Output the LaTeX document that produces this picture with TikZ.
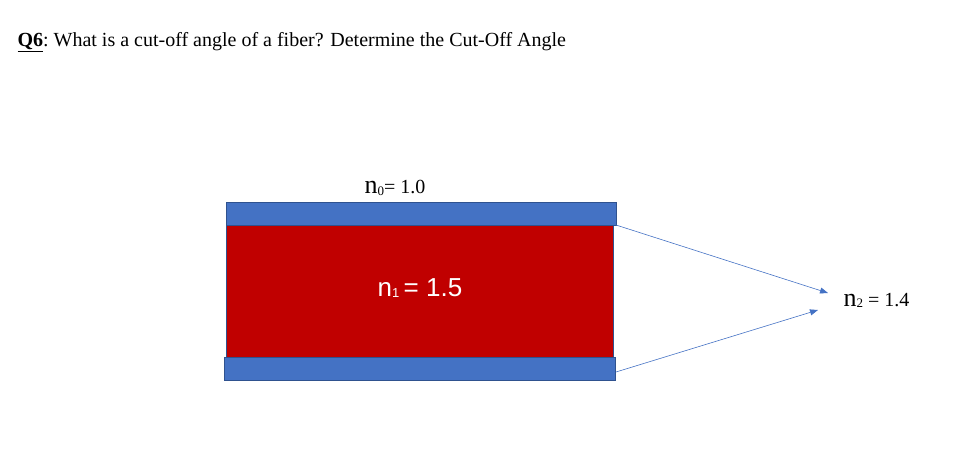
\documentclass[tikz,border=0pt]{standalone}
\usepackage{fontspec}
\setmainfont{Liberation Serif}
\newfontfamily\sansf{Liberation Sans}
\usetikzlibrary{arrows.meta}
\definecolor{barblue}{HTML}{4472C4}
\definecolor{barline}{HTML}{2F528F}
\definecolor{corered}{HTML}{C00000}
\begin{document}
\begin{tikzpicture}[x=1pt,y=-1pt,
  bar/.style={fill=barblue,draw=barline,line width=0.8pt},
  ray/.style={draw=barblue,line width=0.6pt,-{Triangle[length=8pt,width=6pt]}}]
\useasboundingbox (0,0) rectangle (954,455);
\node[anchor=west,font=\fontsize{20}{24}\selectfont] (title) at (14,42) {\textbf{\underline{Q6}}:\ What is a cut-off angle of a fiber? Determine the Cut-Off Angle};
\draw[bar] (226,202) rectangle (616,225);
\node[fill=corered,draw=barline,line width=0.8pt,minimum width=387pt,minimum height=132pt,inner sep=0pt,anchor=north west] (core) at (226,225) {};
\draw[bar] (224,357) rectangle (615,380);
\node (n1) at (420,288) {\sansf\fontsize{26}{30}\selectfont\color{white}n\raisebox{-0.1ex}{\fontsize{13}{15}\selectfont 1}\,= 1.5};
\node (n0) at (395,188) {\fontsize{26}{26}\selectfont n\raisebox{-0.1ex}{\fontsize{13}{15}\selectfont 0}\fontsize{20}{24}\selectfont= 1.0};
\node[anchor=west] (n2) at (840,300) {\fontsize{26}{26}\selectfont n\raisebox{-0.1ex}{\fontsize{13}{15}\selectfont 2}\fontsize{20}{24}\selectfont\ = 1.4};
\coordinate (a1) at (616,225);
\coordinate (a2) at (616,372);
\draw[ray] (a1) -- (828,293);
\draw[ray] (a2) -- (818,310);
\end{tikzpicture}
\end{document}
